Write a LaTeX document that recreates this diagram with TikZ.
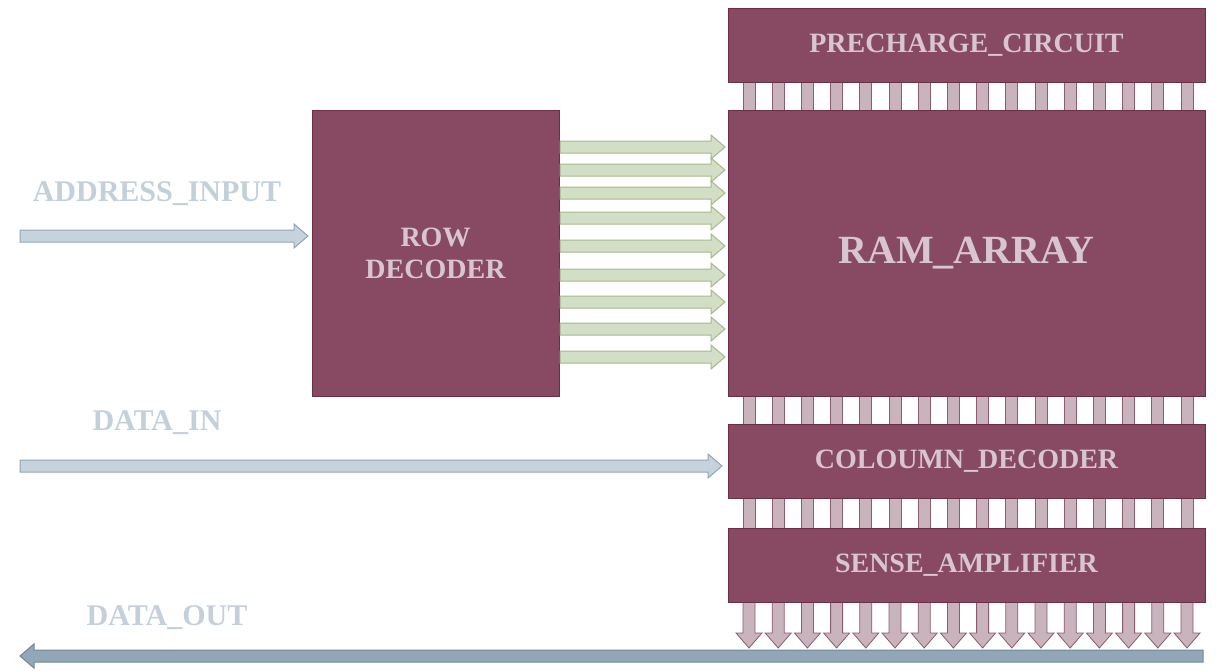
\documentclass[tikz,border=0pt]{standalone}
\usepackage{fontspec}
\setmainfont{Liberation Serif}
\usetikzlibrary{calc,positioning}
\definecolor{blockfill}{HTML}{874A62}
\definecolor{blockline}{HTML}{6B3048}
\definecolor{blocktext}{HTML}{D8C6CE}
\definecolor{barfill}{HTML}{C9B3BD}
\definecolor{barline}{HTML}{8E5A70}
\definecolor{greenfill}{HTML}{D3DEC7}
\definecolor{greenline}{HTML}{A5B98C}
\definecolor{bluefill}{HTML}{C6D2DC}
\definecolor{blueline}{HTML}{8FA6B8}
\definecolor{darkfill}{HTML}{91A7B8}
\definecolor{darkline}{HTML}{6F8797}
\definecolor{labeltext}{HTML}{C3CFD9}
\tikzset{
  block/.style={fill=blockfill,draw=blockline,line width=1pt,text=blocktext,font=\bfseries\fontsize{28}{32}\selectfont,align=center,inner sep=0pt},
  bar/.style={fill=barfill,draw=barline,line width=0.8pt},
  label/.style={text=labeltext,font=\bfseries\fontsize{30}{34}\selectfont,inner sep=0pt}
}
% horizontal block arrow: style, x start, x tip, y
\newcommand\harrow[4]{%
  \pgfmathsetmacro\hb{#3-(#3-#2)/abs(#3-#2)*14}%
  \draw[#1,line width=1pt,line join=miter] (#2,#4-6) -- (\hb,#4-6) -- (\hb,#4-12) -- (#3,#4)
    -- (\hb,#4+12) -- (\hb,#4+6) -- (#2,#4+6) -- cycle;}
% vertical block arrow: x, y start, y tip
\newcommand\varrow[3]{%
  \draw[bar,line join=miter] (#1-6,#2) -- (#1-6,#3-15) -- (#1-13,#3-15) -- (#1,#3)
    -- (#1+13,#3-15) -- (#1+6,#3-15) -- (#1+6,#2) -- cycle;}
\begin{document}
\begin{tikzpicture}[x=1pt,y=-1pt]
  \useasboundingbox (0,0) rectangle (1216,670);

  % connecting bars
  \foreach \i in {0,...,15}{
    \pgfmathsetmacro\bx{749+\i*29.2}
    \foreach \ya/\yb in {82/110,396/424,498/528}{
      \draw[bar] (\bx-6,\ya) rectangle (\bx+6,\yb);
    }
    \varrow{\bx}{602}{648}
  }

  % blocks
  \node[block,minimum width=477pt,minimum height=74pt] (pre) at (966.5,45) {PRECHARGE\_CIRCUIT};
  \node[block,minimum width=477pt,minimum height=286pt,font=\bfseries\fontsize{40}{44}\selectfont] (ram) at (966.5,253) {RAM\_ARRAY};
  \node[block,minimum width=247pt,minimum height=286pt] (row) at (435.5,253) {ROW\\DECODER};
  \node[block,minimum width=477pt,minimum height=74pt] (col) at (966.5,461) {COLOUMN\_DECODER};
  \node[block,minimum width=477pt,minimum height=74pt] (sense) at (966.5,565) {SENSE\_AMPLIFIER};

  % row lines
  \foreach \y in {147,170,193,218,246,275,302,329,357}{
    \harrow{fill=greenfill,draw=greenline}{560}{725}{\y}
  }

  % inputs and outputs
  \harrow{fill=bluefill,draw=blueline}{20}{308}{236}
  \harrow{fill=bluefill,draw=blueline}{20}{722}{466}
  \harrow{fill=darkfill,draw=darkline}{1203}{20}{656}

  \node[label] (addr) at (157,194) {ADDRESS\_INPUT};
  \node[label] (din) at (157,423) {DATA\_IN};
  \node[label] (dout) at (167,618) {DATA\_OUT};
\end{tikzpicture}
\end{document}
